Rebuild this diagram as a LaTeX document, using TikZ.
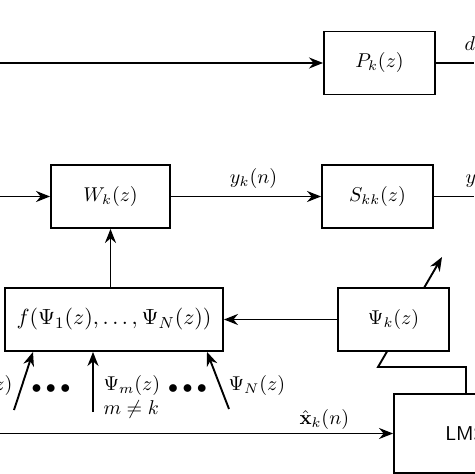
\documentclass[tikz,border=0pt]{standalone}
\usepackage{amsmath}
\usepackage{amssymb}
\usepackage{tikz}
\usetikzlibrary{arrows.meta}
\tikzstyle{bloc} = [rectangle, draw=black, fill=white, minimum height=31.5pt, minimum width=55.5pt, inner sep=0pt, text centered]
\tikzstyle{etiquette} = [inner sep=3.33pt]

\begin{document}
\begin{tikzpicture}[x=0.5pt, y=-0.5pt, line width=0.95pt, >={Stealth[length=7pt, width=5.5pt]}]

    \useasboundingbox (0,0) rectangle (474,474);

    \node (Pk) [bloc] at (379.5,63) {$P_k(z)$};
    \node (Wk) [bloc, minimum width=59.5pt] at (110.5,196.5) {$W_k(z)$};
    \node (Skk) [bloc] at (377.5,196.5) {$S_{kk}(z)$};
    \node (fPsi) [bloc, minimum width=109pt, font=\fontsize{10.9}{13}\selectfont] at (114,319.5) {$f(\Psi_1(z),\ldots,\Psi_N(z))$};
    \node (LMS) [bloc, minimum width=71pt, minimum height=39.5pt] at (465,433.5) {\textsf{LMS}};

    \coordinate (inP) at (0,63);
    \coordinate (outP) at (474,63);
    \coordinate (inW) at (0,196.5);
    \coordinate (outS) at (474,196.5);
    \coordinate (inLMS) at (0,433.5);
    \coordinate (adaptBase) at (378,367);
    \coordinate (adaptTip) at (442,257);
    \coordinate (psiOne) at (14,410);
    \coordinate (psiM) at (93,412);
    \coordinate (psiN) at (229,409);

    \draw[->] ([xshift=0.5pt]LMS.north) |- (adaptBase) -- (adaptTip);
    \node (Psik) [bloc] at (393.5,319.5) {$\Psi_k(z)$};

    \draw[->] (inP) -- (Pk);
    \draw (Pk) -- (outP);
    \node (dLbl) [etiquette, anchor=south west] at (457,63) {$d_k(n)$};

    \draw[->] (inW) -- (Wk);
    \draw[->] (Wk) -- node[etiquette, above, pos=0.55]{$y_k(n)$} (Skk);
    \draw (Skk) -- (outS);
    \node (yLbl) [etiquette, anchor=south west] at (458,196.5) {$y'_k(n)$};

    \draw[->] (fPsi.north -| Wk) -- (Wk);
    \draw[->] (Psik) -- (fPsi);

    \draw[->] (psiOne) -- ([xshift=-40.5pt]fPsi.south);
    \draw[->] (psiM) -- ([xshift=-10.5pt]fPsi.south);
    \draw[->] (psiN) -- ([xshift=46.5pt]fPsi.south);

    \node (psiOneLbl) [etiquette, anchor=east] at (20,385) {$\Psi_1(z)$};
    \node (psiMLbl) [etiquette, anchor=north west, align=left] at (96,368) {$\Psi_m(z)$\\$m\neq k$};
    \node (psiNLbl) [etiquette, anchor=west] at (221,385) {$\Psi_N(z)$};
    \node (dotsLeft) at (51,389) {$\bullet\bullet\bullet$};
    \node (dotsRight) at (187.5,389) {$\bullet\bullet\bullet$};

    \draw[->] (inLMS) -- node[above, inner sep=1.5pt, pos=0.825]{$\hat{\mathbf{x}}_k(n)$} (LMS);

\end{tikzpicture}
\end{document}
